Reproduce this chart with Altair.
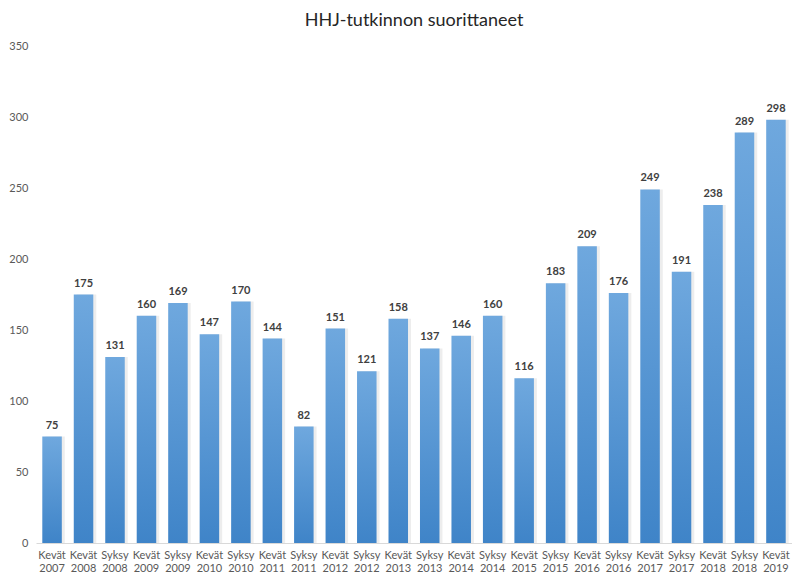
import altair as alt
import pandas as pd

seasons = ["Kevät", "Kevät", "Syksy", "Kevät", "Syksy", "Kevät", "Syksy", "Kevät",
           "Syksy", "Kevät", "Syksy", "Kevät", "Syksy", "Kevät", "Syksy", "Kevät",
           "Syksy", "Kevät", "Syksy", "Kevät", "Syksy", "Kevät", "Syksy", "Kevät"]
years = [2007, 2008, 2008, 2009, 2009, 2010, 2010, 2011, 2011, 2012, 2012, 2013,
         2013, 2014, 2014, 2015, 2015, 2016, 2016, 2017, 2017, 2018, 2018, 2019]
graduates = [75, 175, 131, 160, 169, 147, 170, 144, 82, 151, 121, 158,
             137, 146, 160, 116, 183, 209, 176, 249, 191, 238, 289, 298]

df = pd.DataFrame({
    "Term": [f"{s} {y}" for s, y in zip(seasons, years)],
    "Count": graduates,
})
order = list(df["Term"])
FONT = "Lato"

x = alt.X("Term:N", sort=order, title=None,
          scale=alt.Scale(paddingInner=0.38, paddingOuter=0.2),
          axis=alt.Axis(labelAngle=0, labelExpr="split(datum.label, ' ')",
                        labelFont=FONT, labelFontSize=11, labelColor="#595959",
                        domainColor="#d9d9d9", ticks=False, labelPadding=6))
y = alt.Y("Count:Q", title=None,
          scale=alt.Scale(domain=[0, 350]),
          axis=alt.Axis(values=list(range(0, 351, 50)), grid=False, domain=False,
                        ticks=False, labelFont=FONT, labelFontSize=11,
                        labelColor="#595959", labelPadding=8))

base = alt.Chart(df)

shadow = base.mark_bar(color="#000000", opacity=0.07).encode(
    x=x, y=y, xOffset=alt.value(3)
)

bars = base.mark_bar(
    color=alt.Gradient(
        gradient="linear",
        stops=[alt.GradientStop(color="#6fa8de", offset=0),
               alt.GradientStop(color="#3f84c8", offset=1)],
        x1=0, x2=0, y1=0, y2=1,
    )
).encode(x=x, y=y)

labels = base.mark_text(dy=-11, fontWeight="bold", font=FONT, fontSize=11,
                        color="#404040").encode(x=x, y=y, text="Count:Q")

chart = (shadow + bars + labels).properties(
    width=756, height=497,
    padding={"left": 0, "top": 4, "right": 0, "bottom": 0},
    title=alt.TitleParams("HHJ-tutkinnon suorittaneet", font=FONT, fontSize=18,
                          fontWeight="normal", color="#262626", offset=10),
).configure_view(stroke=None)

chart.save("out.html", embed_options={"renderer": "svg", "actions": False})
